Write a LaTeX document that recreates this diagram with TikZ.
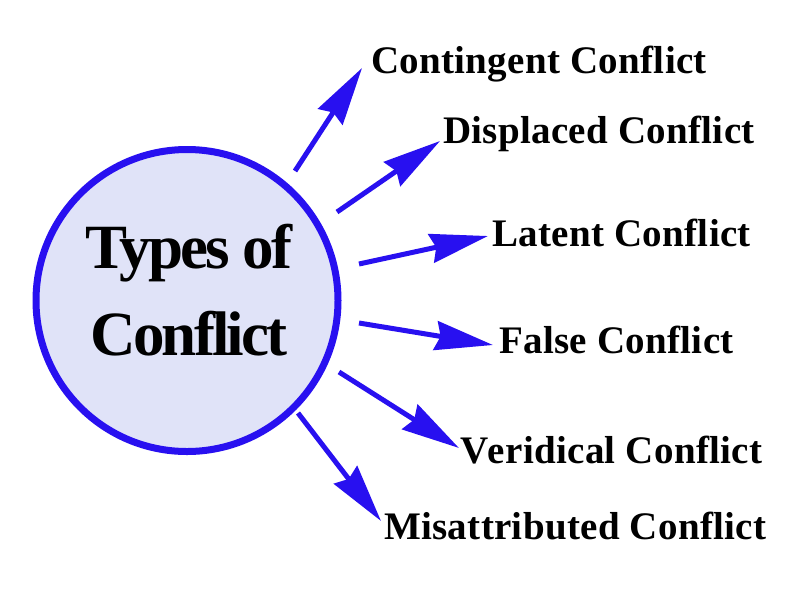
\documentclass[tikz,border=0pt]{standalone}
\usepackage{fontspec}
\setmainfont{Liberation Serif}
\newfontfamily\lblfont[LetterSpace=0.8]{Liberation Serif}
\newfontfamily\titlefont[LetterSpace=-4.6]{Liberation Serif}
\usetikzlibrary{arrows.meta}
\definecolor{arrowblue}{RGB}{40,16,240}
\definecolor{circlefill}{RGB}{224,227,248}
\tikzset{
  hub/.style={circle,draw=arrowblue,fill=circlefill,line width=7pt,minimum size=302pt,inner sep=0pt},
  title/.style={anchor=base,inner sep=0pt,font=\titlefont\bfseries\fontsize{63}{87}\selectfont,text=black},
  lbl/.style={anchor=base west,inner sep=0pt,font=\lblfont\bfseries\fontsize{39}{40}\selectfont,text=black},
  spoke/.style={draw=arrowblue,line width=5pt,-{Stealth[length=58pt,width=29pt,inset=5pt,fill=arrowblue]}}
}
\begin{document}
\begin{tikzpicture}[x=1pt,y=-1pt]
\useasboundingbox (0,0) rectangle (800,590);
\fill[white] (0,0) rectangle (800,590);
\node[hub] (c) at (187,300.5) {};
\node[title] (t1) at (189,268) {Types of};
\node[title] (t2) at (189,355) {Conflict};
\node[lbl] (l1) at (371,73) {Contingent Conflict};
\node[lbl] (l2) at (443,143) {Displaced Conflict};
\node[lbl] (l3) at (492,246) {Latent Conflict};
\node[lbl] (l4) at (499,353) {False Conflict};
\node[lbl] (l5) at (460,463) {V\kern-0.5pt eridical Conflict};
\node[lbl] (l6) at (384,539) {Misattributed Conflict};
\coordinate (s1) at (295,171); \coordinate (e1) at (362,68);
\coordinate (s2) at (337,212); \coordinate (e2) at (440,141);
\coordinate (s3) at (359,264); \coordinate (e3) at (488,236);
\coordinate (s4) at (359,323); \coordinate (e4) at (493,345);
\coordinate (s5) at (339,372); \coordinate (e5) at (459,448);
\coordinate (s6) at (298,413); \coordinate (e6) at (381,521);
\foreach \i in {1,...,6} \draw[spoke] (s\i) -- (e\i);
\end{tikzpicture}
\end{document}
